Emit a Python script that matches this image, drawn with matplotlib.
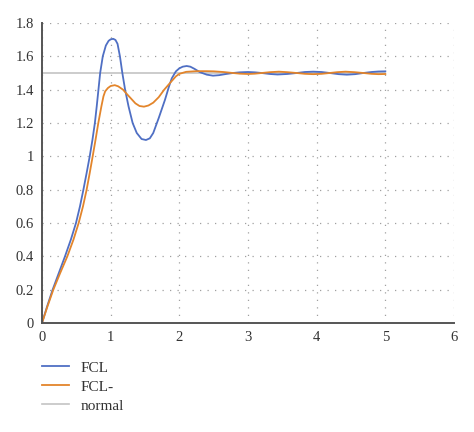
import matplotlib
matplotlib.use("Agg")
import matplotlib.pyplot as plt
from matplotlib.ticker import FuncFormatter

plt.rcParams['font.family'] = ['Liberation Serif', 'DejaVu Serif']

# values
fcl_t = [0, 0.075, 0.155, 0.245, 0.335, 0.42, 0.495, 0.553, 0.603, 0.65, 0.695, 0.735,
         0.77, 0.797, 0.822, 0.847, 0.885, 0.93, 0.97, 1.0, 1.038, 1.07, 1.1, 1.135,
         1.17, 1.21, 1.26, 1.32, 1.38, 1.45, 1.514, 1.57, 1.62, 1.7, 1.79, 1.85,
         1.89, 1.95, 2.0, 2.05, 2.107, 2.16, 2.22, 2.3, 2.4, 2.49, 2.58, 2.68,
         2.78, 2.88, 3.0, 3.1, 3.2, 3.32, 3.43, 3.57, 3.71, 3.83, 3.95, 4.07,
         4.19, 4.32, 4.44, 4.56, 4.68, 4.8, 4.9, 5.0]
fcl_v = [0, 0.10, 0.2, 0.30, 0.4, 0.5, 0.6, 0.7, 0.8, 0.9, 1.0, 1.1,
         1.2, 1.3, 1.4, 1.5, 1.6, 1.665, 1.693, 1.702, 1.705, 1.698, 1.675, 1.6,
         1.5, 1.4, 1.3, 1.2, 1.14, 1.104, 1.098, 1.108, 1.14, 1.23, 1.338, 1.42,
         1.468, 1.51, 1.528, 1.538, 1.542, 1.538, 1.525, 1.505, 1.49, 1.484, 1.487, 1.494,
         1.5, 1.504, 1.506, 1.504, 1.5, 1.494, 1.491, 1.494, 1.5, 1.506, 1.508, 1.506,
         1.5, 1.493, 1.49, 1.493, 1.5, 1.506, 1.509, 1.51]

fclm_t = [0, 0.08, 0.165, 0.265, 0.369, 0.458, 0.534, 0.597, 0.65, 0.695, 0.738, 0.78,
          0.82, 0.865, 0.895, 0.92, 0.96, 1.0, 1.06, 1.11, 1.18, 1.24, 1.3, 1.36,
          1.42, 1.485, 1.55, 1.62, 1.7, 1.78, 1.864, 1.95, 2.0, 2.1, 2.25, 2.4,
          2.5, 2.64, 2.78, 2.88, 3.0, 3.1, 3.2, 3.32, 3.45, 3.57, 3.71, 3.83,
          3.95, 4.07, 4.19, 4.3, 4.42, 4.55, 4.68, 4.8, 4.9, 5.0]
fclm_v = [0, 0.1, 0.2, 0.3, 0.4, 0.5, 0.6, 0.7, 0.8, 0.9, 1.0, 1.1,
          1.2, 1.3, 1.36, 1.39, 1.41, 1.422, 1.427, 1.42, 1.40, 1.372, 1.345, 1.318,
          1.302, 1.298, 1.305, 1.322, 1.355, 1.40, 1.44, 1.48, 1.495, 1.507, 1.511, 1.511,
          1.51, 1.506, 1.5, 1.496, 1.494, 1.496, 1.5, 1.505, 1.508, 1.505, 1.5, 1.495,
          1.493, 1.495, 1.5, 1.505, 1.508, 1.505, 1.5, 1.495, 1.493, 1.494]

normal_t = [0, 5]
normal_v = [1.5, 1.5]

x_ticks = [0, 1, 2, 3, 4, 5, 6]
y_ticks = [0, 0.2, 0.4, 0.6, 0.8, 1.0, 1.2, 1.4, 1.6, 1.8]

fig = plt.figure(figsize=(4.74, 4.32), dpi=100)
ax = fig.add_axes([42 / 474, 109 / 432, 412 / 474, 300 / 432])

ax.plot(fcl_t, fcl_v, color='#4f6fc4', lw=1.3, label='FCL')
ax.plot(fclm_t, fclm_v, color='#e3852b', lw=1.3, label='FCL-')
ax.plot(normal_t, normal_v, color='#c4c4c4', lw=1.2, label='normal', zorder=1)

ax.set_xlim(0, 6)
ax.set_ylim(0, 1.8)
ax.set_xticks(x_ticks)
ax.set_yticks(y_ticks)
ax.yaxis.set_major_formatter(FuncFormatter(lambda v, p: f"{v:g}"))
ax.grid(True, color='#a0a0a0', linestyle=(0, (1, 5)), lw=0.9)
ax.set_axisbelow(True)
ax.tick_params(length=0, labelsize=10.5, colors='#333333', pad=6)

for s in ['top', 'right']:
    ax.spines[s].set_visible(False)
for s in ['left', 'bottom']:
    ax.spines[s].set_color('#555555')
    ax.spines[s].set_linewidth(1.4)

fig.legend(loc='upper left', bbox_to_anchor=(42 / 474, 1 - 361 / 432),
           frameon=False, fontsize=11, handlelength=1.75, handletextpad=0.75,
           labelspacing=0.35, borderpad=0, borderaxespad=0, labelcolor='#333333')

fig.savefig('out.png', dpi=100)
